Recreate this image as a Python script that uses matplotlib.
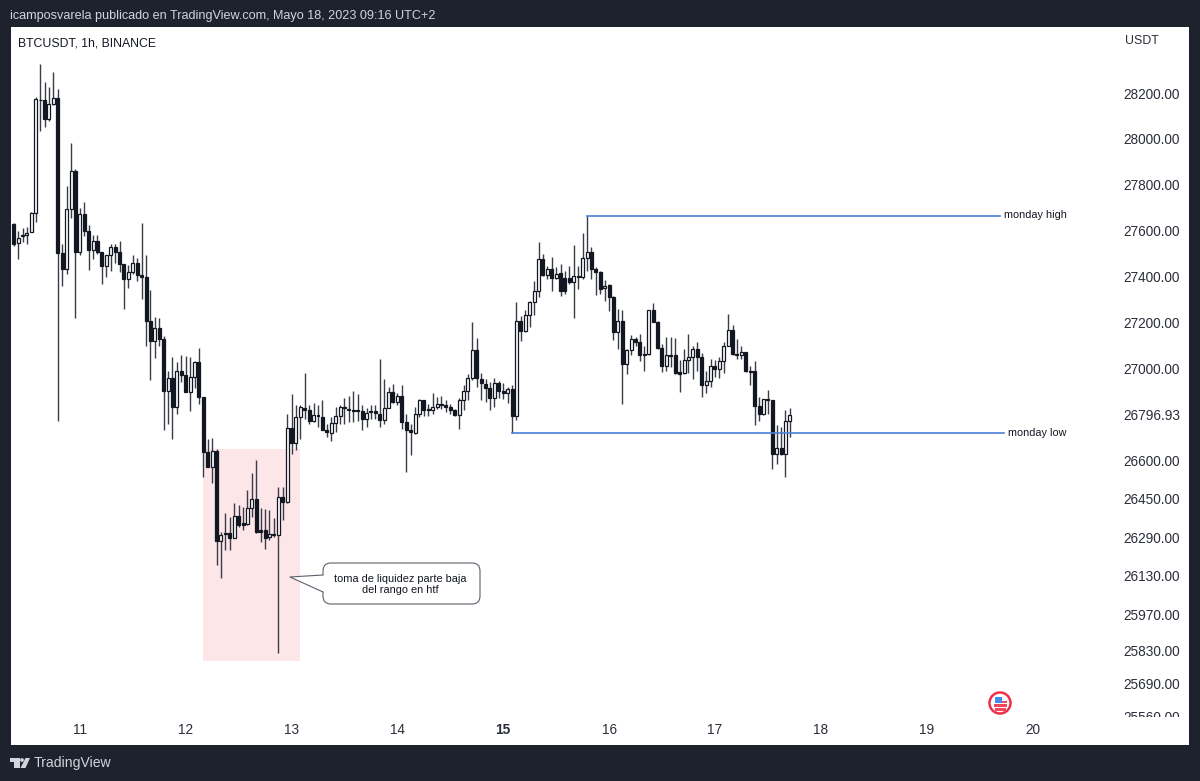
import numpy as np
import matplotlib
matplotlib.use("Agg")
import matplotlib.pyplot as plt
from matplotlib.patches import Rectangle, FancyBboxPatch, Circle, Polygon
from matplotlib.transforms import Bbox

plt.rcParams['font.family'] = ['Liberation Sans', 'DejaVu Sans']

# hourly BTCUSDT candles
opens = [27630,27545,27575,27579,27592,27678,28171,28168,28088,28152,28178,27502,27434,27696,27859,27509,
         27671,27600,27517,27556,27506,27448,27493,27530,27506,27453,27391,27419,27461,27405,27399,27206,
         27120,27176,27126,26899,26957,26833,26989,26972,26896,26960,27029,26874,26635,26572,26639,26263,
         26290,26295,26277,26367,26336,26333,26398,26437,26308,26308,26280,26286,26286,26446,26426,26739,
         26674,26787,26828,26819,26770,26796,26788,26729,26719,26761,26790,26833,26822,26819,26816,26812,
         26777,26812,26812,26801,26775,26828,26897,26852,26881,26765,26729,26719,26801,26860,26822,26820,
         26833,26845,26838,26833,26816,26797,26862,26903,26957,27080,26954,26933,26913,26871,26936,26900,
         26893,26910,26790,27208,27162,27233,27288,27336,27475,27408,27433,27392,27414,27394,27394,27375,
         27404,27399,27481,27505,27431,27420,27349,27363,27312,27160,27204,27020,27079,27127,27114,27063,
         27061,27252,27202,27088,27009,27057,27056,26982,26979,27034,27047,27083,27047,26928,26946,27008,
         26996,27030,27095,27167,27063,27060,27069,26989,26989,26837,26802,26864,26860,26624,26654,26624,
         26772]
highs = [27635,27600,27611,27616,27681,28181,28327,28250,28228,28293,28216,27543,27794,27983,27871,27700,
         27725,27626,27582,27579,27506,27496,27540,27540,27553,27456,27451,27492,27482,27633,27496,27343,
         27222,27219,27142,26986,27050,27026,27059,27055,27050,27033,27088,26874,26693,26696,26649,26301,
         26378,26364,26422,26412,26405,26475,26545,26600,26398,26394,26392,26357,26486,26489,26801,26889,
         26838,26838,26978,26838,26848,26838,26862,26755,26787,26830,26838,26870,26881,26899,26886,26838,
         26828,26838,26838,27041,26954,26917,26932,26891,26925,26801,26755,26830,26867,26862,26845,26891,
         26874,26881,26860,26845,26823,26871,26925,26973,27200,27132,26978,26954,26939,26957,26946,26935,
         26920,26925,27288,27230,27254,27295,27382,27552,27498,27447,27486,27440,27455,27426,27447,27537,
         27447,27588,27665,27527,27443,27423,27386,27367,27317,27259,27252,27085,27143,27138,27150,27099,
         27252,27285,27205,27104,27136,27136,27133,27037,27085,27150,27099,27114,27066,26990,27041,27034,
         27049,27114,27237,27189,27128,27099,27069,27012,27030,26875,26867,26906,26863,26751,26744,26819,
         26828]
lows = [27535,27475,27550,27540,27592,27638,28034,28053,28079,28148,26768,27358,27412,27657,27218,27492,
        27575,27429,27477,27499,27368,27397,27426,27460,27419,27259,27351,27412,27380,27303,27099,26949,
        27045,27099,26731,26759,26691,26800,26938,26896,26814,26916,26844,26530,26572,26503,26164,26110,
        26225,26225,26273,26322,26308,26329,26364,26294,26259,26229,26266,26280,25807,26350,26419,26627,
        26645,26693,26780,26758,26765,26743,26729,26700,26685,26722,26758,26755,26765,26765,26770,26729,
        26743,26780,26780,26746,26758,26828,26849,26838,26736,26549,26623,26714,26787,26790,26794,26801,
        26823,26823,26809,26801,26794,26736,26816,26860,26947,26918,26860,26852,26820,26830,26871,26867,
        26848,26717,26773,27121,27157,27179,27233,27312,27404,27389,27336,27389,27317,27324,27367,27220,
        27346,27389,27423,27389,27320,27324,27295,27251,27124,27082,26845,26973,27056,27099,27031,26990,
        27060,27201,27085,26983,26990,27005,26973,26896,26976,26979,26954,26990,26875,26892,26918,26962,
        26957,26979,27095,27060,27041,27041,26983,26925,26751,26770,26795,26802,26562,26583,26621,26530,
        26700]
closes = [27540,27570,27580,27591,27678,28174,28168,28088,28152,28178,27502,27434,27696,27859,27509,27671,
          27600,27517,27555,27506,27448,27493,27530,27506,27453,27391,27419,27460,27405,27400,27206,27120,
          27176,27126,26899,26957,26833,26989,26972,26896,26960,27029,26873,26635,26572,26639,26263,26286,
          26297,26277,26367,26329,26330,26398,26437,26300,26301,26277,26290,26290,26446,26426,26739,26674,
          26787,26830,26820,26772,26796,26790,26729,26720,26761,26790,26833,26825,26817,26813,26812,26777,
          26807,26809,26807,26775,26828,26897,26852,26881,26765,26729,26720,26801,26860,26816,26817,26833,
          26845,26838,26833,26816,26797,26862,26903,26957,27080,26957,26935,26913,26871,26936,26900,26894,
          26910,26790,27208,27162,27233,27288,27336,27475,27408,27433,27392,27411,27336,27336,27375,27404,
          27398,27481,27505,27431,27420,27347,27360,27310,27160,27204,27020,27079,27127,27114,27056,27059,
          27252,27202,27088,27009,27056,27053,26979,26977,27034,27047,27083,27047,26928,26946,27008,26996,
          27030,27095,27167,27063,27059,27069,26986,26985,26837,26802,26864,26860,26624,26654,26624,26772,
          26797]

day_hours = [15, 39, 63, 87, 111, 135, 159, 183, 207, 231]
day_labels = ['11', '12', '13', '14', '15', '16', '17', '18', '19', '20']

price_pos = [28200, 28000, 27800, 27600, 27400, 27200, 27000, 26797, 26600, 26441, 26279, 26120, 25962, 25820, 25686, 25553]
price_labels = ['28200.00', '28000.00', '27800.00', '27600.00', '27400.00', '27200.00', '27000.00', '26796.93',
                '26600.00', '26450.00', '26290.00', '26130.00', '25970.00', '25830.00', '25690.00', '25560.00']

# the price axis is not evenly spaced, heights are px from the figure bottom
scale_prices = [25436, 25820, 26225, 26600, 28488]
scale_heights = [36, 131, 231, 321, 754]

monday_high = 27665
monday_low = 26717
high_hour = 130
low_hour = 113
range_hours = (43, 65)
range_prices = (25774, 26647)

W, H = 1200, 781
BG = '#1e222d'
INK = '#131722'


def price_to_height(p):
    p = np.asarray(p, float)
    return np.interp(p, scale_prices, scale_heights)


def height_to_price(v):
    v = np.asarray(v, float)
    return np.interp(v, scale_heights, scale_prices)


fig = plt.figure(figsize=(W / 100, H / 100), dpi=100, facecolor=BG)

# main panel, pixels x 10.5..1189, y 27..745
ax = fig.add_axes([10.5 / W, 1 - 745 / H, 1178.5 / W, 718 / H], facecolor='white')
ax.set_yscale('function', functions=(price_to_height, height_to_price))
ax.set_xlim(-0.726, 266.5)
ax.set_ylim(25436, 28488)
for s in ax.spines.values():
    s.set_visible(False)

o = np.array(opens, float)
h = np.array(highs, float)
l = np.array(lows, float)
c = np.array(closes, float)
x = np.arange(len(o))
up = c >= o

ax.add_patch(Rectangle((range_hours[0], range_prices[0]), range_hours[1] - range_hours[0],
                       range_prices[1] - range_prices[0], fc='#fde6e7', ec='none', zorder=1))

ax.vlines(x, l, h, color='#3a3d47', lw=1.0, zorder=2)
body_low = np.minimum(o, c)
body_h = np.maximum(np.abs(c - o), 2)
ax.bar(x[up], body_h[up], bottom=body_low[up], width=0.68, color='white', edgecolor=INK, lw=0.9, zorder=3)
ax.bar(x[~up], body_h[~up], bottom=body_low[~up], width=0.68, color=INK, edgecolor=INK, lw=0.9, zorder=3)

# monday lines end in pixels at 1000 / 1004
line_end_high = (1000 - 13.7) / 4.41
line_end_low = (1004 - 13.7) / 4.41
ax.plot([high_hour, line_end_high], [monday_high, monday_high], color='#4a80d8', lw=1.2, zorder=4)
ax.plot([low_hour, line_end_low], [monday_low, monday_low], color='#4a80d8', lw=1.2, zorder=4)

ax.set_xticks(day_hours, day_labels)
ax.set_yticks(price_pos, price_labels)
ax.minorticks_off()
ax.yaxis.tick_right()
ax.tick_params(axis='y', length=0, pad=-47.5, labelsize=9.8, labelcolor='#2a2e39')
ax.tick_params(axis='x', length=0, pad=-15.5, labelsize=9.8, labelcolor='#2a2e39')
ax.get_xticklabels()[4].set_fontweight('bold')
clip = Bbox([[0, H - 717], [W, H]])
for lab in ax.get_yticklabels():
    lab.set_clip_box(clip)
    lab.set_clip_on(True)

# overlay in pixel coordinates for texts and drawings
pg = fig.add_axes([0, 0, 1, 1], facecolor='none', zorder=5)
pg.set_xlim(0, W)
pg.set_ylim(H, 0)
pg.axis('off')

pg.text(10, 16, 'icamposvarela publicado en TradingView.com, Mayo 18, 2023 09:16 UTC+2',
        color='#d1d4dc', fontsize=9.1, va='center', ha='left')
pg.text(18, 44, 'BTCUSDT, 1h, BINANCE', color=INK, fontsize=8.8, va='center', ha='left')
pg.text(1125, 41, 'USDT', color='#2a2e39', fontsize=8.9, va='center', ha='left')
pg.text(1067, 215, 'monday high', color=INK, fontsize=7.8, va='center', ha='right')
pg.text(1067, 433.5, 'monday low', color=INK, fontsize=7.8, va='center', ha='right')

# callout
edge = '#5d606b'
pg.add_patch(FancyBboxPatch((323, 563), 157, 41, boxstyle='round,pad=0,rounding_size=8',
                            fc='white', ec=edge, lw=0.8))
pg.add_patch(Polygon([(290, 577), (324, 575), (324, 592)], closed=True, fc='white', ec='none', zorder=3))
pg.plot([323, 290, 323], [575, 577, 592], color=edge, lw=0.8, zorder=4)
pg.text(400, 584.5, 'toma de liquidez parte baja\ndel rango en htf', color=INK, fontsize=7.95,
        ha='center', va='center', linespacing=1.15, zorder=5)

# flag badge
pg.add_patch(Circle((1000, 703), 10.5, fc='white', ec='#f0304a', lw=1.8))
pg.add_patch(Rectangle((993.5, 704), 13.5, 2.5, fc='#f0475c', ec='none'))
pg.add_patch(Rectangle((994.5, 708), 11, 2.5, fc='#f0475c', ec='none'))
pg.add_patch(Rectangle((1001, 700.5), 6, 2.2, fc='#f0475c', ec='none'))
pg.add_patch(Rectangle((995, 696.5), 6.5, 6.5, fc='#3f8fee', ec='none'))

# footer logo
pg.add_patch(Rectangle((10, 758), 9.5, 3.5, fc='#d1d4dc', ec='none'))
pg.add_patch(Rectangle((13.5, 761), 6, 7, fc='#d1d4dc', ec='none'))
pg.add_patch(Circle((22, 760), 1.9, fc='#d1d4dc', ec='none'))
pg.add_patch(Polygon([(25.5, 758), (30, 758), (25.5, 768), (20.5, 768)], closed=True, fc='#d1d4dc', ec='none'))
pg.text(34, 763.5, 'TradingView', color='#d1d4dc', fontsize=10.1, va='center', ha='left', fontweight='medium')

fig.savefig('out.png', dpi=100, facecolor=BG)
